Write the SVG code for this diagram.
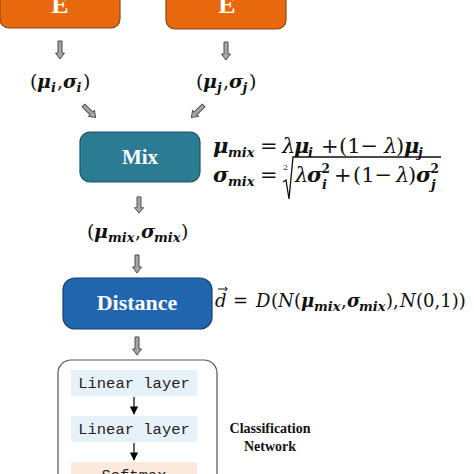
<svg xmlns="http://www.w3.org/2000/svg" width="474" height="474" viewBox="0 0 474 474">
<defs>
<style>
.box{stroke-width:1.2}
.lbl{font-family:"Liberation Serif",serif;font-weight:bold;fill:#fff;text-anchor:middle}
.m{font-family:"DejaVu Serif","Liberation Serif",serif;font-size:19px;fill:#111}
.f{font-size:21px}
.d{font-size:18px}
.b{font-weight:bold;font-style:italic}
.i{font-style:italic}
.sub{font-size:13px;font-weight:bold;font-style:italic}
.sup{font-size:12px;font-weight:bold}
.mono{font-family:"Liberation Mono",monospace;font-size:15.5px;fill:#222;text-anchor:middle}
.cls{font-family:"Liberation Serif",serif;font-weight:bold;font-size:14px;fill:#111;text-anchor:middle}
.blk{fill:#a6a6a6;stroke:#4a4a4a;stroke-width:1}
</style>
<path id="barrow" d="M-2,-9 H2 V3 H4.5 L0,9 L-4.5,3 H-2 Z"/>
<marker id="ah" viewBox="0 0 10 10" refX="9" refY="5" markerWidth="7" markerHeight="7" orient="auto"><path d="M0,0 L10,5 L0,10 Z" fill="#000"/></marker>
</defs>
<rect width="474" height="474" fill="#fff"/>

<g id="encoder-i">
<rect class="box" x="0" y="-20" width="120" height="48" rx="9" fill="#e8690c" stroke="#8a4818"/>
<text class="lbl" x="60" y="13" font-size="26">E</text>
</g>
<g id="encoder-j">
<rect class="box" x="166" y="-20" width="120" height="49" rx="9" fill="#e8690c" stroke="#8a4818"/>
<text class="lbl" x="227" y="13" font-size="26">E</text>
</g>

<g id="params-i">
<text class="m" y="88"><tspan x="30">(</tspan><tspan class="b" x="37">μ</tspan><tspan class="sub" x="51" y="92">i</tspan><tspan x="57" y="88">,</tspan><tspan class="b" x="63">σ</tspan><tspan class="sub" x="76.5" y="92">i</tspan><tspan x="83" y="88">)</tspan></text>
</g>
<g id="params-j">
<text class="m" y="88"><tspan x="196">(</tspan><tspan class="b" x="203">μ</tspan><tspan class="sub" x="217" y="92">j</tspan><tspan x="223" y="88">,</tspan><tspan class="b" x="229">σ</tspan><tspan class="sub" x="242.5" y="92">j</tspan><tspan x="249" y="88">)</tspan></text>
</g>

<g id="mix">
<rect class="box" x="80" y="132" width="120" height="50" rx="10" fill="#2b7b93" stroke="#1d5566"/>
<text class="lbl" x="140" y="164" font-size="21">Mix</text>
</g>
<g id="mix-formula">
<text class="m f" y="153"><tspan class="b" x="213">μ</tspan><tspan class="sub" x="228" y="157">mix</tspan><tspan x="260" y="153">=</tspan><tspan class="i" x="282">λ</tspan><tspan class="b" x="294">μ</tspan><tspan class="sub" x="308" y="157">i</tspan><tspan x="321" y="153">+</tspan><tspan x="339">(1−</tspan><tspan class="i" x="384">λ</tspan><tspan x="396">)</tspan><tspan class="b" x="404">μ</tspan><tspan class="sub" x="418" y="157">j</tspan></text>
<text class="m f" y="182"><tspan class="b" x="213">σ</tspan><tspan class="sub" x="228" y="186">mix</tspan><tspan x="260" y="182">=</tspan></text>
<text x="283" y="170" font-family="DejaVu Serif,serif" font-size="8" fill="#111">2</text>
<path d="M283,182 L286,180 L289,199 L293,157 H441" fill="none" stroke="#111" stroke-width="1.3"/>
<text class="m f" y="182"><tspan class="i" x="295">λ</tspan><tspan class="b" x="307">σ</tspan><tspan class="sup" x="321.5" y="173">2</tspan><tspan class="sub" x="322" y="189">i</tspan><tspan x="334" y="182">+</tspan><tspan x="353">(1−</tspan><tspan class="i" x="396">λ</tspan><tspan x="408">)</tspan><tspan class="b" x="416">σ</tspan><tspan class="sup" x="430.5" y="173">2</tspan><tspan class="sub" x="431" y="189">j</tspan></text>
</g>

<g id="params-mix">
<text class="m" y="238"><tspan x="87">(</tspan><tspan class="b" x="94">μ</tspan><tspan class="sub" x="108" y="242">mix</tspan><tspan x="135" y="238">,</tspan><tspan class="b" x="141">σ</tspan><tspan class="sub" x="154" y="242">mix</tspan><tspan x="181" y="238">)</tspan></text>
</g>

<g id="distance">
<rect class="box" x="63" y="278" width="149" height="51" rx="12" fill="#1f66ae" stroke="#163e6a"/>
<text class="lbl" x="137" y="310" font-size="22">Distance</text>
</g>
<g id="distance-formula">
<text class="m d" y="307"><tspan class="i" x="215">d</tspan><tspan x="233">=</tspan><tspan class="i" x="256">D</tspan><tspan x="271">(</tspan><tspan class="i" x="278">N</tspan><tspan x="294">(</tspan><tspan class="b" x="301">μ</tspan><tspan class="sub" x="314" y="311">mix</tspan><tspan x="341" y="307">,</tspan><tspan class="b" x="347">σ</tspan><tspan class="sub" x="359" y="311">mix</tspan><tspan x="386" y="307">),</tspan><tspan class="i" x="400">N</tspan><tspan x="416">(0,1))</tspan></text>
<path d="M218,289 H227 M225,287 L227.5,289 L225,291" fill="none" stroke="#111" stroke-width="1"/>
</g>

<g id="classification-network">
<rect x="58" y="360" width="159" height="140" rx="13" fill="#fff" stroke="#555" stroke-width="1.2"/>
<g id="linear1">
<rect x="71" y="370" width="126" height="26" fill="#e6f1f9"/>
<text class="mono" x="134" y="388">Linear layer</text>
</g>
<g id="linear2">
<rect x="71" y="416" width="126" height="26" fill="#e6f1f9"/>
<text class="mono" x="134" y="434">Linear layer</text>
</g>
<g id="softmax">
<rect x="71" y="462" width="126" height="26" fill="#fbe9dd"/>
<text class="mono" x="134" y="480">Softmax</text>
</g>
</g>
<g id="classification-label">
<text class="cls" x="270" y="433">Classification</text>
<text class="cls" x="270" y="451">Network</text>
</g>

<g id="connectors">
<use href="#barrow" class="blk" transform="translate(60,50)"/>
<use href="#barrow" class="blk" transform="translate(226,51)"/>
<use href="#barrow" class="blk" transform="translate(89.5,111.5) rotate(-45) scale(0.95)"/>
<use href="#barrow" class="blk" transform="translate(197.5,111.5) rotate(45) scale(0.95)"/>
<use href="#barrow" class="blk" transform="translate(139,205) scale(1,0.9)"/>
<use href="#barrow" class="blk" transform="translate(137,264)"/>
<use href="#barrow" class="blk" transform="translate(137,346)"/>
<line x1="134" y1="397" x2="134" y2="414" stroke="#000" stroke-width="1.2" marker-end="url(#ah)"/>
<line x1="134" y1="443" x2="134" y2="460" stroke="#000" stroke-width="1.2" marker-end="url(#ah)"/>
</g>
</svg>
